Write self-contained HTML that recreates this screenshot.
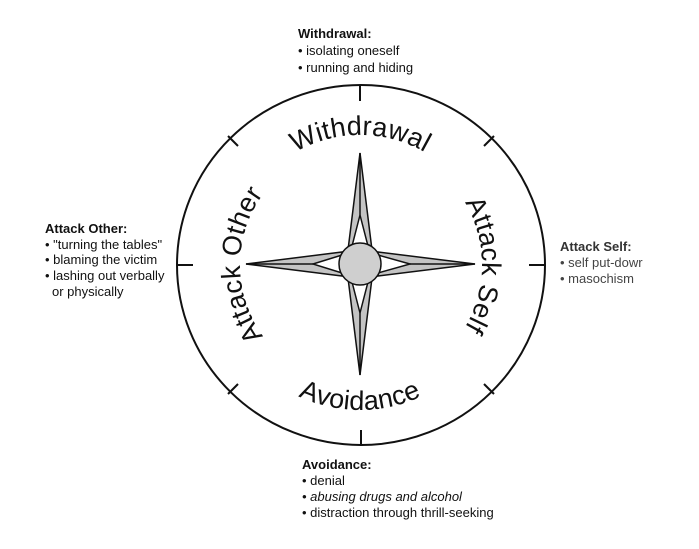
<!DOCTYPE html>
<html><head><meta charset="utf-8"><style>
html,body{margin:0;padding:0;background:#fff;}
svg{display:block;}
text{font-family:"Liberation Sans",Arial,sans-serif;fill:#111;}
.h{font-weight:bold;font-size:13px;}
.t{font-size:13px;}
.big{font-size:27px;letter-spacing:0.2px;}
</style></head><body>
<svg width="699" height="549" viewBox="0 0 699 549" xmlns="http://www.w3.org/2000/svg">
<rect width="699" height="549" fill="#fff"/>
<defs>
<path id="pt" d="M230,265 A130,130 0 0 1 490,265"/>
<path id="pr" d="M360,143 A122,122 0 0 1 360,387"/>
<path id="pl" d="M360,385 A120,120 0 0 1 360,145"/>
<path id="pb" d="M215,265 A145,145 0 0 0 505,265"/>
</defs>
<ellipse cx="361" cy="265" rx="184" ry="180" fill="none" stroke="#111" stroke-width="2"/>
<g stroke="#111" stroke-width="2">
<line x1="360" y1="85" x2="360" y2="101"/>
<line x1="361" y1="430" x2="361" y2="446"/>
<line x1="177" y1="265" x2="193" y2="265"/>
<line x1="529" y1="265" x2="545" y2="265"/>
<line x1="228" y1="136" x2="238" y2="146"/>
<line x1="494" y1="136" x2="484" y2="146"/>
<line x1="228" y1="394" x2="238" y2="384"/>
<line x1="494" y1="394" x2="484" y2="384"/>
</g>
<g stroke="#111" stroke-width="1.5" stroke-linejoin="miter">
<polygon points="360,153 348,250 372,250" fill="#c4c4c4"/>
<polygon points="360,215 351,250 369,250" fill="#fff"/>
<line x1="360" y1="153" x2="360" y2="215"/>
<polygon points="360,375 348,278 372,278" fill="#c4c4c4"/>
<polygon points="360,313 351,278 369,278" fill="#fff"/>
<line x1="360" y1="375" x2="360" y2="313"/>
<polygon points="246,264 342,252 342,276" fill="#c4c4c4"/>
<polygon points="313,264 342,255 342,273" fill="#fff"/>
<line x1="246" y1="264" x2="313" y2="264"/>
<polygon points="475,264 378,252 378,276" fill="#c4c4c4"/>
<polygon points="410,264 378,255 378,273" fill="#fff"/>
<line x1="475" y1="264" x2="410" y2="264"/>
<circle cx="360" cy="264" r="21" fill="#cfcfcf"/>
</g>
<text class="big"><textPath href="#pt" startOffset="50%" text-anchor="middle">Withdrawal</textPath></text>
<text class="big"><textPath href="#pr" startOffset="50%" text-anchor="middle">Attack Self</textPath></text>
<text class="big"><textPath href="#pl" startOffset="50%" text-anchor="middle">Attack Other</textPath></text>
<text class="big"><textPath href="#pb" startOffset="50%" text-anchor="middle">Avoidance</textPath></text>

<text class="h" x="298" y="38">Withdrawal:</text>
<text class="t" x="298" y="55">• isolating oneself</text>
<text class="t" x="298" y="72">• running and hiding</text>

<text class="h" x="45" y="233">Attack Other:</text>
<text class="t" x="45" y="249">• "turning the tables"</text>
<text class="t" x="45" y="264">• blaming the victim</text>
<text class="t" x="45" y="280">• lashing out verbally</text>
<text class="t" x="52" y="296">or physically</text>

<text class="h" x="560" y="251" style="fill:#333">Attack Self:</text>
<text class="t" x="560" y="267" style="fill:#444">• self put-dowr</text>
<text class="t" x="560" y="283" style="fill:#444">• masochism</text>

<text class="h" x="302" y="469">Avoidance:</text>
<text class="t" x="302" y="485">• denial</text>
<text class="t" x="302" y="501" font-style="italic">• abusing drugs and alcohol</text>
<text class="t" x="302" y="517">• distraction through thrill-seeking</text>
</svg>
</body></html>
